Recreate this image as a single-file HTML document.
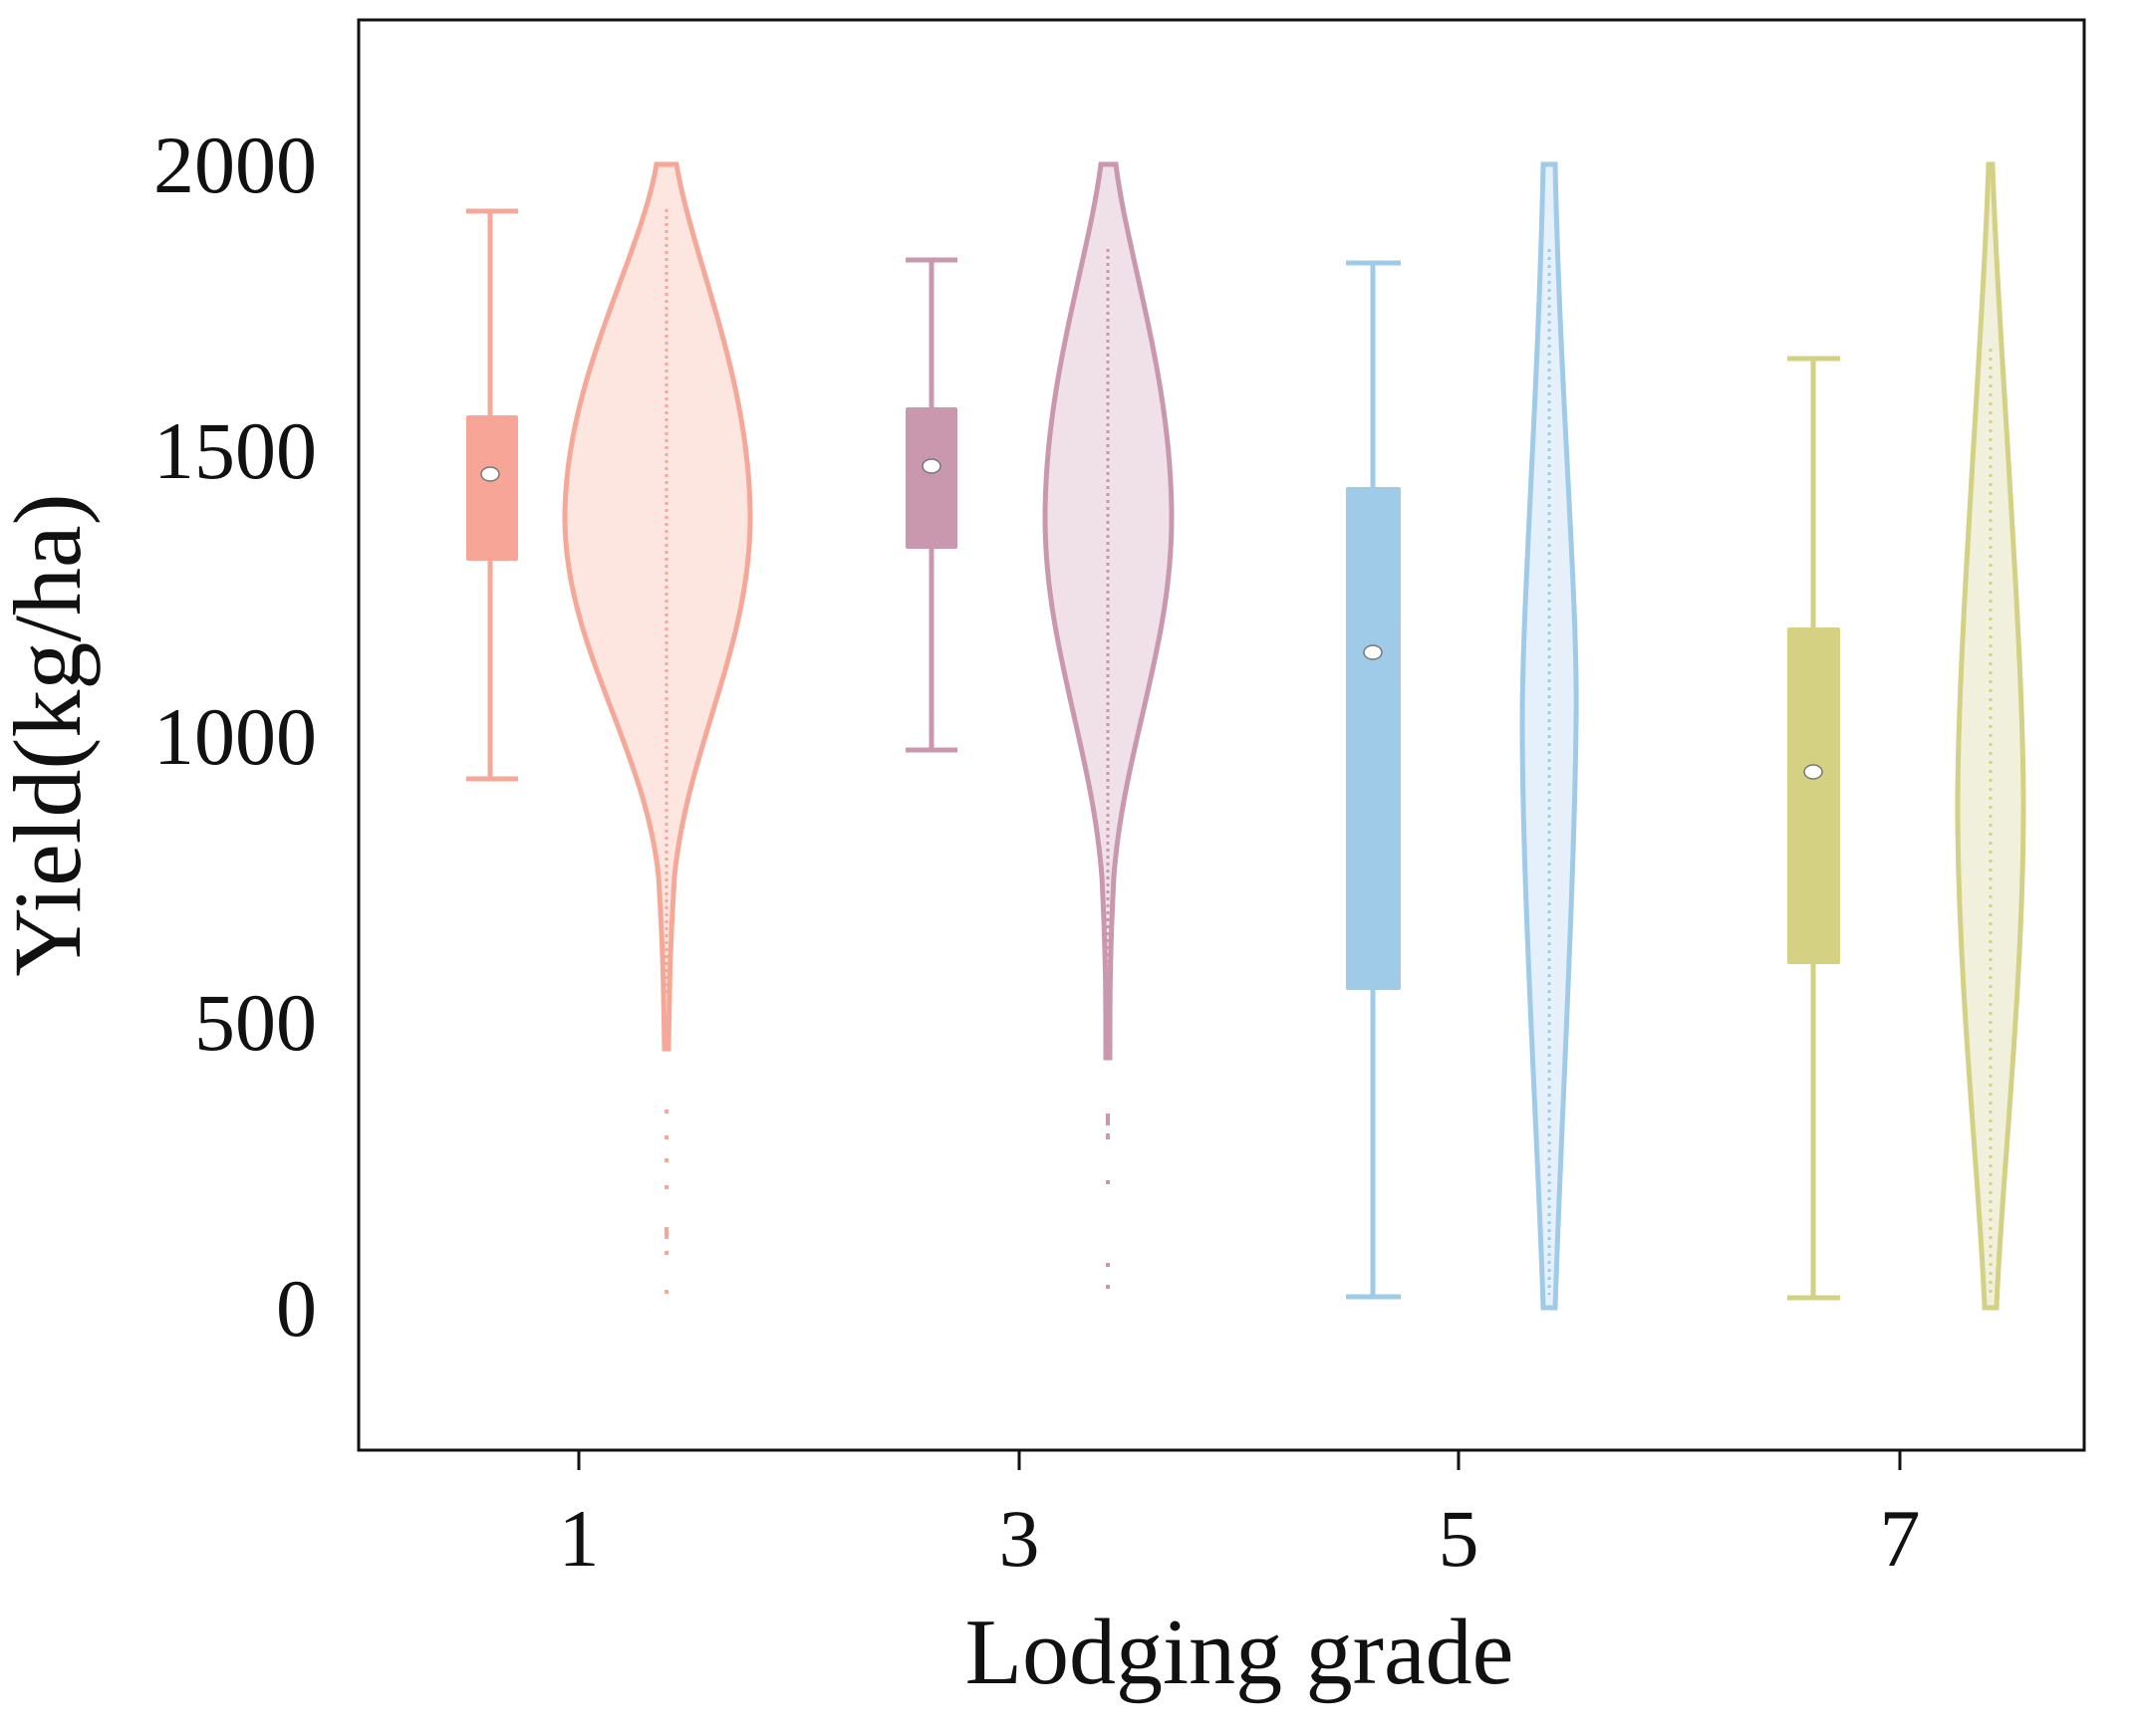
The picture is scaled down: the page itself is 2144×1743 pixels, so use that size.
<!DOCTYPE html>
<html><head><meta charset="utf-8"><style>body{margin:0;background:#fff}</style></head><body>
<svg width="2144" height="1738" xmlns="http://www.w3.org/2000/svg" font-family="Liberation Serif, serif">
<rect x="360" y="20" width="1732" height="1436" fill="none" stroke="#111" stroke-width="3"/>
<g stroke="#111" stroke-width="3">
<line x1="581" y1="1456" x2="581" y2="1476"/><line x1="1023" y1="1456" x2="1023" y2="1476"/><line x1="1464" y1="1456" x2="1464" y2="1476"/><line x1="1907" y1="1456" x2="1907" y2="1476"/>
</g>
<g font-size="82" text-anchor="end" fill="#111">
<text x="318" y="193">2000</text><text x="318" y="480">1500</text><text x="318" y="767">1000</text><text x="318" y="1054">500</text><text x="318" y="1341">0</text>
</g>
<g font-size="82" text-anchor="middle" fill="#111">
<text x="581" y="1572">1</text><text x="1023" y="1572">3</text><text x="1464" y="1572">5</text><text x="1907" y="1572">7</text>
</g>
<text x="1244" y="1690" font-size="94" text-anchor="middle" fill="#111">Lodging grade</text>
<text transform="translate(80,738) rotate(-90)" font-size="96" text-anchor="middle" fill="#111">Yield(kg/ha)</text>

<!-- group 1 -->
<g stroke="#f5a898" stroke-width="5" fill="none">
<line x1="492" y1="212" x2="492" y2="417"/><line x1="492" y1="563" x2="492" y2="782"/>
<line x1="468" y1="212" x2="520" y2="212"/><line x1="468" y1="782" x2="520" y2="782"/>
</g>
<rect x="468" y="417" width="52" height="146" fill="#f6a596" rx="2"/>
<ellipse cx="492" cy="476" rx="9" ry="7" fill="#fff" stroke="#777" stroke-width="1.5"/>
<path d="M659,165 L679,165 C695,260 753,380 753,520 C753,650 690,750 677,880 C672,960 672,1000 671,1053 L667,1053 C666,1000 666,960 661,880 C648,750 567,650 567,520 C567,380 643,260 659,165 Z" fill="#fde5e0" stroke="#f6a898" stroke-width="5"/>
<line x1="669" y1="210" x2="669" y2="1000" stroke="#f6a898" stroke-width="3" stroke-dasharray="3 4"/>
<g fill="#f6a898"><rect x="667" y="1114" width="4" height="4"/><rect x="667" y="1140" width="4" height="4"/><rect x="667" y="1163" width="4" height="4"/><rect x="667" y="1190" width="4" height="4"/><rect x="667" y="1232" width="4" height="12"/><rect x="667" y="1256" width="4" height="4"/><rect x="667" y="1295" width="4" height="4"/></g>

<!-- group 3 -->
<g stroke="#c998ae" stroke-width="5" fill="none">
<line x1="935" y1="261" x2="935" y2="409"/><line x1="935" y1="551" x2="935" y2="753"/>
<line x1="909" y1="261" x2="961" y2="261"/><line x1="909" y1="753" x2="961" y2="753"/>
</g>
<rect x="909" y="409" width="52" height="142" fill="#c997ae" rx="2"/>
<ellipse cx="935" cy="468" rx="9" ry="7" fill="#fff" stroke="#777" stroke-width="1.5"/>
<path d="M1105,165 L1120,165 C1132,260 1176,380 1176,520 C1176,650 1128,750 1118,880 C1114,960 1114,1000 1114,1062 L1110,1062 C1110,1000 1110,960 1106,880 C1096,750 1049,650 1049,520 C1049,380 1093,260 1105,165 Z" fill="#f0e1e8" stroke="#c998ae" stroke-width="5"/>
<line x1="1112" y1="250" x2="1112" y2="1000" stroke="#c998ae" stroke-width="3" stroke-dasharray="3 4"/>
<g fill="#c998ae"><rect x="1110" y="1118" width="4" height="12"/><rect x="1110" y="1138" width="4" height="6"/><rect x="1110" y="1185" width="4" height="4"/><rect x="1110" y="1268" width="4" height="4"/><rect x="1110" y="1290" width="4" height="4"/></g>

<!-- group 5 -->
<g stroke="#9fcbe8" stroke-width="5" fill="none">
<line x1="1378" y1="264" x2="1378" y2="489"/><line x1="1378" y1="994" x2="1378" y2="1302"/>
<line x1="1351" y1="264" x2="1406" y2="264"/><line x1="1351" y1="1302" x2="1406" y2="1302"/>
</g>
<rect x="1351" y="489" width="55" height="505" fill="#a0cbe8" rx="2"/>
<ellipse cx="1378" cy="655" rx="9" ry="7" fill="#fff" stroke="#777" stroke-width="1.5"/>
<path d="M1549,165 L1561,165 C1566,400 1584,600 1582,725 C1580,900 1566,1150 1561,1313 L1549,1313 C1544,1150 1528,900 1528,725 C1528,600 1544,400 1549,165 Z" fill="#e6f0fa" stroke="#9fcbe8" stroke-width="5"/>
<line x1="1555" y1="250" x2="1555" y2="1300" stroke="#9fcbe8" stroke-width="3" stroke-dasharray="3 5"/>

<!-- group 7 -->
<g stroke="#d3d183" stroke-width="5" fill="none">
<line x1="1820" y1="360" x2="1820" y2="630"/><line x1="1820" y1="968" x2="1820" y2="1303"/>
<line x1="1794" y1="360" x2="1847" y2="360"/><line x1="1794" y1="1303" x2="1847" y2="1303"/>
</g>
<rect x="1794" y="630" width="53" height="338" fill="#d4d183" rx="2"/>
<ellipse cx="1820" cy="775" rx="9" ry="7" fill="#fff" stroke="#777" stroke-width="1.5"/>
<path d="M1996,165 L2000,165 C2006,350 2032,650 2031,820 C2030,1000 2008,1200 2004,1313 L1992,1313 C1988,1200 1966,1000 1965,820 C1964,650 1990,350 1996,165 Z" fill="#f1f0dc" stroke="#d3d183" stroke-width="5"/>
<line x1="1998" y1="350" x2="1998" y2="1300" stroke="#d3d183" stroke-width="3" stroke-dasharray="3 6"/>
</svg>
</body></html>
